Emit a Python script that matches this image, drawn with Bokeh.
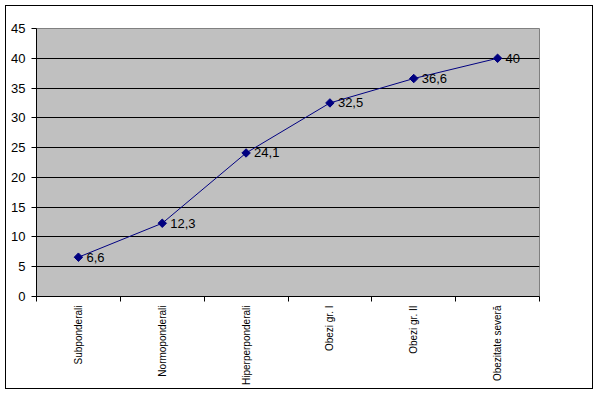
from math import pi
from bokeh.plotting import figure
from bokeh.models import FixedTicker, Range1d, ColumnDataSource, LabelSet
from bokeh.core.properties import value
from bokeh.embed import file_html
from bokeh.resources import INLINE

categories = ["Subponderali", "Normoponderali", "Hiperperponderali",
              "Obezi gr. I", "Obezi gr. II", "Obezitate severă"]
values = [6.6, 12.3, 24.1, 32.5, 36.6, 40]
value_labels = ["6,6", "12,3", "24,1", "32,5", "36,6", "40"]
y_ticks = [0, 5, 10, 15, 20, 25, 30, 35, 40, 45]

FONT = "Liberation Sans"

xs = [i + 0.5 for i in range(len(categories))]
boundaries = list(range(len(categories) + 1))

src = ColumnDataSource(dict(x=xs, y=values, lab=value_labels))

p = figure(width=588, height=384, output_backend="svg", toolbar_location=None,
           x_range=Range1d(0, len(categories)), y_range=Range1d(0, 45),
           min_border_left=30, min_border_right=55, min_border_top=22, min_border_bottom=94,
           background_fill_color="#C0C0C0", border_fill_color="white",
           outline_line_color="#808080", outline_line_width=1,
           styles={"border": "1px solid black", "margin-left": "5px", "margin-top": "5px"})

# x axis
p.xaxis.ticker = FixedTicker(ticks=xs, minor_ticks=boundaries)
p.xaxis.major_label_overrides = {x: c for x, c in zip(xs, categories)}
p.xaxis.major_tick_line_color = None
p.xaxis.major_tick_out = 0
p.xaxis.major_tick_in = 0
p.xaxis.minor_tick_in = 0
p.xaxis.minor_tick_out = 5
p.xaxis.minor_tick_line_color = "black"
p.xaxis.major_label_orientation = pi / 2
p.xaxis.major_label_standoff = 4
p.xaxis.major_label_text_font = FONT
p.xaxis.major_label_text_font_size = "10px"
p.xaxis.major_label_text_color = "black"
p.xaxis.axis_line_color = "black"

# y axis
p.yaxis.ticker = FixedTicker(ticks=y_ticks)
p.yaxis.minor_tick_line_color = None
p.yaxis.major_tick_in = 0
p.yaxis.major_tick_out = 5
p.yaxis.major_tick_line_color = "black"
p.yaxis.axis_line_color = "black"
p.yaxis.major_label_standoff = 6
p.yaxis.major_label_text_font = FONT
p.yaxis.major_label_text_font_size = "13px"
p.yaxis.major_label_text_color = "black"

# grid
p.xgrid.grid_line_color = None
p.ygrid.ticker = FixedTicker(ticks=y_ticks[1:-1])
p.ygrid.grid_line_color = "black"
p.ygrid.grid_line_width = 1

p.line("x", "y", source=src, line_color="#000080", line_width=1)
p.scatter("x", "y", source=src, marker="square", size=6, angle=pi / 4,
          fill_color="#000080", line_color="#000080")

labels = LabelSet(x="x", y="y", text="lab", source=src, x_offset=8,
                  text_baseline="middle", text_align="left",
                  text_font=value(FONT), text_font_size="13px", text_color="black")
p.add_layout(labels)

open("out.html", "w").write(file_html(p, INLINE))
